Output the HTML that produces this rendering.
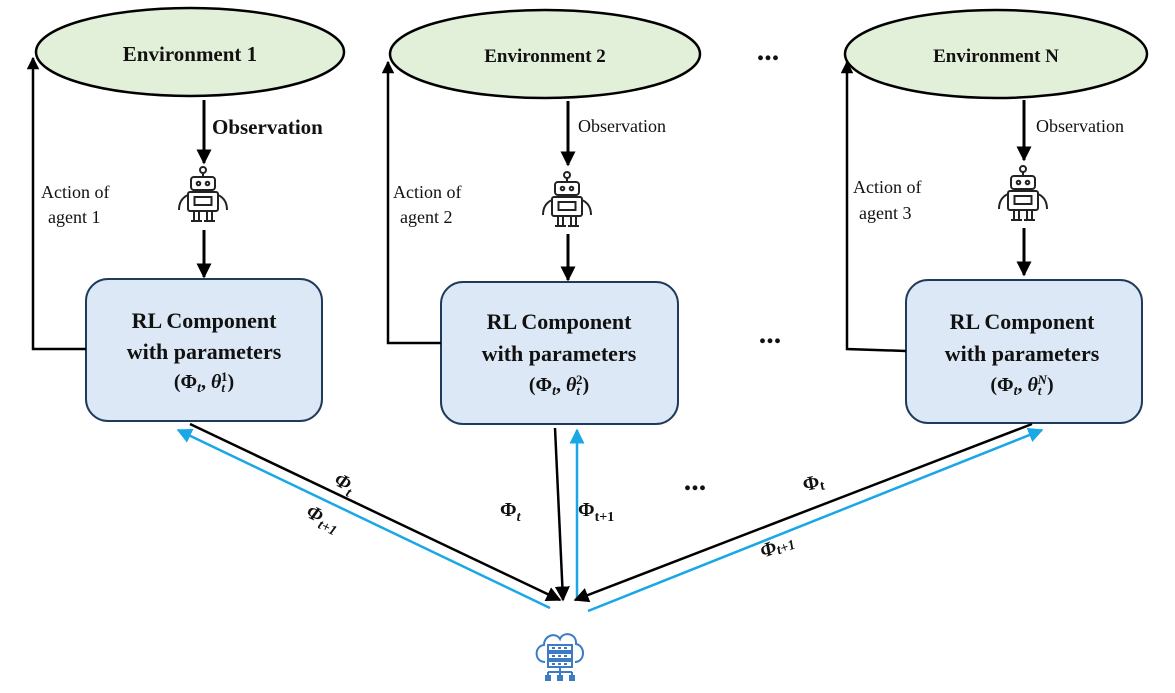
<!DOCTYPE html>
<html><head><meta charset="utf-8"><style>
html,body{margin:0;padding:0;background:#fff;}
svg{display:block;}
text{font-family:"Liberation Serif",serif;fill:#111;}
</style></head><body>
<svg width="1175" height="693" viewBox="0 0 1175 693" xmlns="http://www.w3.org/2000/svg">
<defs>
<marker id="ak" viewBox="0 0 10 10" refX="9" refY="5" markerWidth="5" markerHeight="5" orient="auto-start-reverse"><path d="M0,0 L10,5 L0,10 z" fill="#000"/></marker>
<marker id="ak2" viewBox="0 0 10 10" refX="9" refY="5" markerWidth="6" markerHeight="6" orient="auto"><path d="M0,0 L10,5 L0,10 z" fill="#000"/></marker>
<marker id="ab" viewBox="0 0 10 10" refX="9" refY="5" markerWidth="6" markerHeight="6" orient="auto"><path d="M0,0 L10,5 L0,10 z" fill="#1aa7e6"/></marker>
<g id="robot" fill="none" stroke="#222" stroke-width="2">
<circle cx="0" cy="-27" r="3"/>
<line x1="0" y1="-24" x2="0" y2="-20"/>
<rect x="-12" y="-20" width="24" height="13" rx="3"/>
<circle cx="-4.5" cy="-13.5" r="1.8"/><circle cx="4.5" cy="-13.5" r="1.8"/>
<rect x="-15" y="-5" width="30" height="19" rx="2"/>
<rect x="-8.5" y="0" width="17" height="8"/>
<path d="M-15,-2 Q-24,2 -24,13 M15,-2 Q24,2 24,13"/>
<path d="M-9,14 V24 M-4,14 V24 M4,14 V24 M9,14 V24 M-12,24 H-1 M1,24 H12"/>
</g>
</defs>

<ellipse cx="190" cy="52" rx="154" ry="44" fill="#e2efd9" stroke="#000" stroke-width="2.5"/>
<ellipse cx="545" cy="54" rx="155" ry="44" fill="#e2efd9" stroke="#000" stroke-width="2.5"/>
<ellipse cx="996" cy="54" rx="151" ry="44" fill="#e2efd9" stroke="#000" stroke-width="2.5"/>
<text x="190" y="61" font-size="21" font-weight="bold" text-anchor="middle">Environment 1</text>
<text x="545" y="62" font-size="19" font-weight="bold" text-anchor="middle">Environment 2</text>
<text x="996" y="62" font-size="19" font-weight="bold" text-anchor="middle">Environment N</text>

<rect x="86" y="279" width="236" height="142" rx="22" fill="#dce8f5" stroke="#1f3b5c" stroke-width="2"/>
<rect x="441" y="282" width="237" height="142" rx="22" fill="#dce8f5" stroke="#1f3b5c" stroke-width="2"/>
<rect x="906" y="280" width="236" height="143" rx="22" fill="#dce8f5" stroke="#1f3b5c" stroke-width="2"/>
<g font-size="22" font-weight="bold" text-anchor="middle">
<text x="204" y="328">RL Component</text><text x="204" y="359">with parameters</text>
<text x="559" y="329">RL Component</text><text x="559" y="361">with parameters</text>
<text x="1022" y="329">RL Component</text><text x="1022" y="361">with parameters</text>
</g>
<g font-size="20" font-weight="bold" text-anchor="middle">
<text x="204" y="388">(Φ<tspan font-size="14" dy="4" font-style="italic">t</tspan><tspan dy="-4">, </tspan><tspan font-style="italic">θ</tspan><tspan font-size="13" font-style="italic" dy="4">t</tspan><tspan font-size="13" dx="-4" dy="-11">1</tspan><tspan dy="7">)</tspan></text>
<text x="559" y="391">(Φ<tspan font-size="14" dy="4" font-style="italic">t</tspan><tspan dy="-4">, </tspan><tspan font-style="italic">θ</tspan><tspan font-size="13" font-style="italic" dy="4">t</tspan><tspan font-size="13" dx="-4" dy="-11">2</tspan><tspan dy="7">)</tspan></text>
<text x="1022" y="391">(Φ<tspan font-size="14" dy="4" font-style="italic">t</tspan><tspan dy="-4">, </tspan><tspan font-style="italic">θ</tspan><tspan font-size="13" font-style="italic" dy="4">t</tspan><tspan font-size="13" font-style="italic" dx="-4" dy="-11">N</tspan><tspan dy="7">)</tspan></text>
</g>

<g stroke="#000" stroke-width="3" marker-end="url(#ak)">
<line x1="204" y1="100" x2="204" y2="163"/>
<line x1="204" y1="230" x2="204" y2="277"/>
<line x1="568" y1="101" x2="568" y2="165"/>
<line x1="568" y1="234" x2="568" y2="280"/>
<line x1="1024" y1="100" x2="1024" y2="160"/>
<line x1="1024" y1="228" x2="1024" y2="275"/>
</g>
<text x="212" y="134" font-size="21" font-weight="bold">Observation</text>
<text x="578" y="132" font-size="18">Observation</text>
<text x="1036" y="132" font-size="18">Observation</text>

<use href="#robot" x="203" y="197"/>
<use href="#robot" x="567" y="202"/>
<use href="#robot" x="1023" y="196"/>

<g fill="none" stroke="#000" stroke-width="2.5" marker-end="url(#ak)">
<polyline points="86,349 33,349 33,58"/>
<polyline points="441,343 388,343 388,62"/>
<polyline points="906,351 847,349 847,62"/>
</g>
<g font-size="18">
<text x="41" y="198">Action of</text><text x="48" y="223">agent 1</text>
<text x="393" y="198">Action of</text><text x="400" y="223">agent 2</text>
<text x="853" y="193">Action of</text><text x="859" y="219">agent 3</text>
</g>

<g font-size="30" font-weight="bold" text-anchor="middle">
<text x="768" y="60">...</text>
<text x="770" y="343">...</text>
<text x="695" y="490">...</text>
</g>

<g stroke-width="2.5" fill="none">
<line x1="190" y1="424" x2="560" y2="600" stroke="#000" marker-end="url(#ak2)"/>
<line x1="550" y1="608" x2="178" y2="430" stroke="#1aa7e6" marker-end="url(#ab)"/>
<line x1="555" y1="428" x2="563" y2="600" stroke="#000" marker-end="url(#ak2)"/>
<line x1="577" y1="600" x2="577" y2="430" stroke="#1aa7e6" marker-end="url(#ab)"/>
<line x1="1032" y1="424" x2="575" y2="600" stroke="#000" marker-end="url(#ak2)"/>
<line x1="588" y1="611" x2="1042" y2="430" stroke="#1aa7e6" marker-end="url(#ab)"/>
</g>
<g font-size="20" font-weight="bold" font-style="italic">
<text transform="translate(333,484) rotate(26)">Φ<tspan font-size="14" dy="5">t</tspan></text>
<text transform="translate(305,516) rotate(26)">Φ<tspan font-size="14" dy="5">t+1</tspan></text>
<text x="500" y="516" font-style="normal">Φ<tspan font-size="14" dy="5" font-style="italic">t</tspan></text>
<text x="578" y="516" font-style="normal">Φ<tspan font-size="14" dy="5">t+1</tspan></text>
<text transform="translate(804,491) rotate(-10)" font-style="normal">Φ<tspan font-size="14" dy="2">t</tspan></text>
<text transform="translate(763,558) rotate(-20)">Φ<tspan font-size="14" dy="2">t+1</tspan></text>
</g>

<g transform="translate(560,650)" fill="none" stroke="#3d7cc4" stroke-width="2">
<path d="M-15,12 C-26,12 -26,-4 -16,-5 C-16,-15 -4,-18 0,-11 C3,-19 17,-17 16,-6 C26,-4 25,12 15,12" fill="#fff"/>
<rect x="-12" y="-5" width="24" height="6" fill="#fff"/>
<rect x="-12" y="3" width="24" height="6" fill="#fff"/>
<rect x="-12" y="11" width="24" height="6" fill="#fff"/>
<g fill="#3d7cc4" stroke="none">
<rect x="-8" y="-3" width="3" height="2"/><rect x="-2" y="-3" width="3" height="2"/><rect x="4" y="-3" width="3" height="2"/>
<rect x="-8" y="5" width="3" height="2"/><rect x="-2" y="5" width="3" height="2"/><rect x="4" y="5" width="3" height="2"/>
<rect x="-8" y="13" width="3" height="2"/><rect x="-2" y="13" width="3" height="2"/><rect x="4" y="13" width="3" height="2"/>
</g>
<path d="M0,17 V22 M-12,22 H12 M-12,22 V26 M0,22 V26 M12,22 V26"/>
<rect x="-14" y="26" width="4" height="4" fill="#3d7cc4"/>
<rect x="-2" y="26" width="4" height="4" fill="#3d7cc4"/>
<rect x="10" y="26" width="4" height="4" fill="#3d7cc4"/>
</g>
</svg>
</body></html>
